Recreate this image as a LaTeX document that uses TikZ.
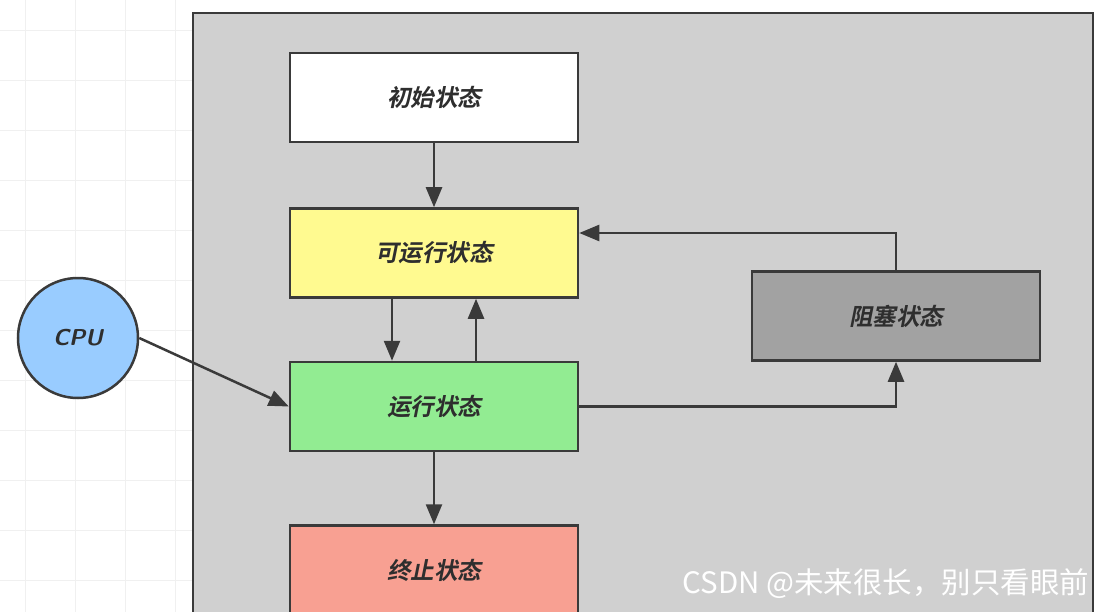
\documentclass[tikz,border=0pt]{standalone}
\usepackage{fontspec}
\usepackage{xcolor}
\usepackage{tikz}
\usetikzlibrary{arrows.meta,positioning}
\newfontfamily\statefont{Noto Sans CJK SC Bold}[FakeSlant=0.2]
\newfontfamily\markfont{Noto Sans CJK SC}
\definecolor{panelgray}{HTML}{D0D0D0}
\definecolor{edgegray}{HTML}{3A3A3A}
\definecolor{textdark}{HTML}{2E2E2E}
\definecolor{runnableyellow}{HTML}{FFFA90}
\definecolor{rungreen}{HTML}{92EC92}
\definecolor{endred}{HTML}{F8A092}
\definecolor{blockgray}{HTML}{A2A2A2}
\definecolor{cpublue}{HTML}{99CCFF}

\begin{document}
\begin{tikzpicture}[x=1pt,y=-1pt,
  node distance=64pt,
  state/.style={draw=edgegray, line width=2.5pt, minimum width=288pt, minimum height=89pt,
    font=\statefont\fontsize{23.5}{26}\selectfont, text=textdark},
  arr/.style={-{Triangle[length=20pt,width=16pt]}, line width=2.5pt, draw=edgegray},
  gridline/.style={draw=gray!12, line width=0.8pt}
]
  \useasboundingbox (0,0) rectangle (1107,612);
  \fill[white] (0,0) rectangle (1107,612);
  \foreach \gx in {25,75,125,175} \draw[gridline] (\gx,0) -- (\gx,612);
  \foreach \gy in {30,80,130,180,230,280,330,380,430,480,530,580} \draw[gridline] (0,\gy) -- (193,\gy);
  % container
  \draw[fill=panelgray, draw=edgegray, line width=2.5pt] (193,13) rectangle (1093,660);

  \node[state, fill=white] (init) at (434,97.5) {初始状态};
  \node[state, fill=runnableyellow, below=64pt of init] (runnable) {可运行状态};
  \node[state, fill=rungreen, below=62pt of runnable] (run) {运行状态};
  \node[state, fill=endred, below=72pt of run] (term) {终止状态};
  \node[state, fill=blockgray] (block) at (896,316) {阻塞状态};
  \node[circle, draw=edgegray, line width=2.5pt, fill=cpublue, minimum size=120pt, inner sep=0pt,
    font=\sffamily\bfseries\itshape\fontsize{23}{26}\selectfont, text=textdark] (cpu) at (78,338) {CPU};

  \draw[arr] (init) -- (runnable);
  \draw[arr] ([xshift=-42pt]runnable.south) -- ([xshift=-42pt]run.north);
  \draw[arr] ([xshift=42pt]run.north) -- ([xshift=42pt]runnable.south);
  \draw[arr] (run.east) -| (block.south);
  \draw[arr] (block.north) |- ([yshift=20pt]runnable.east);
  \draw[arr] (cpu.east) -- (run.west);
  \draw[arr] (run) -- (term);

  \node[anchor=east, font=\markfont\fontsize{29.5}{32}\selectfont, text=white] (mark) at (1093,584) {CSDN @未来很长，别只看眼前};
\end{tikzpicture}
\end{document}
